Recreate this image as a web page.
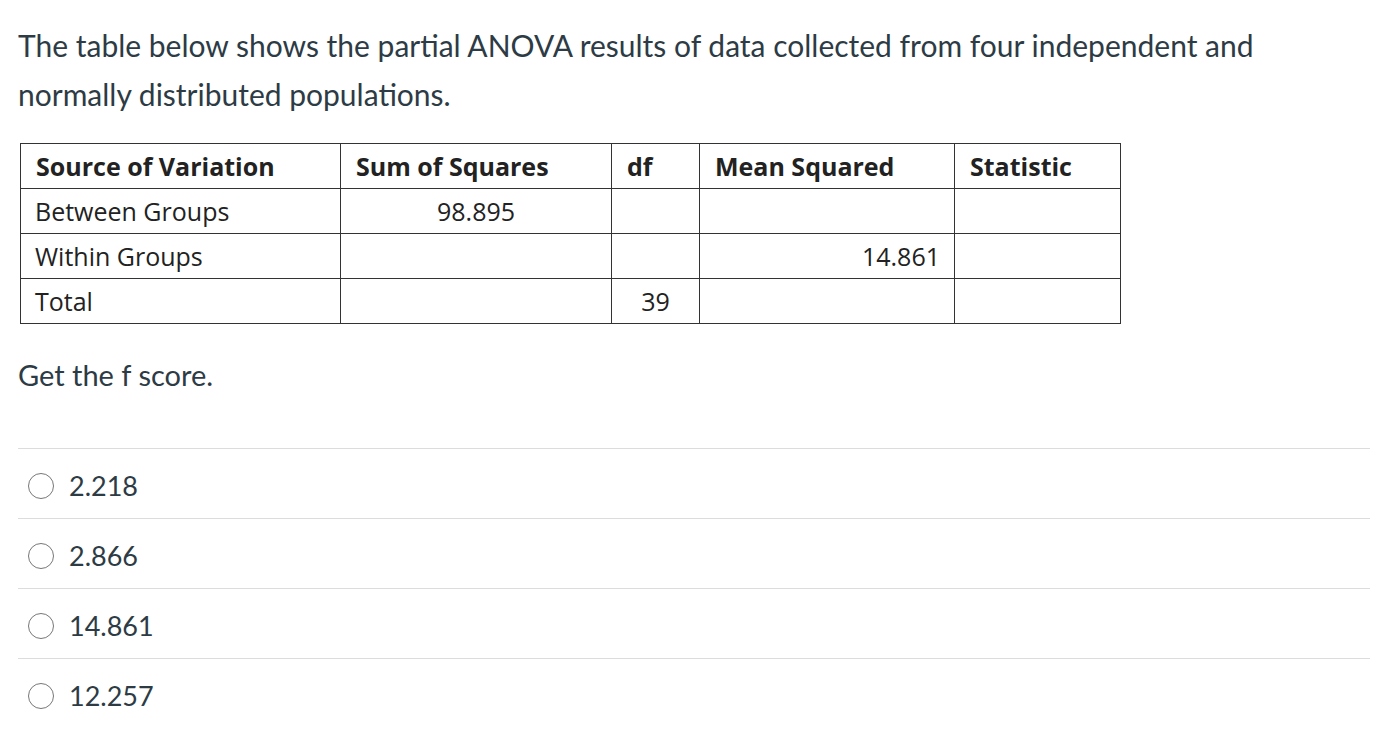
<!DOCTYPE html>
<html>
<head>
<meta charset="utf-8">
<script src="https://cdn.jsdelivr.net/npm/chart.js@4"></script>
<style>
  body { margin: 0; background: #fff; font-family: Lato, sans-serif; color: #2d3b45; width: 1398px; height: 748px; overflow: hidden; position: relative; }
  .q { position: absolute; left: 18px; top: 21px; font-size: 30px; line-height: 49px; width: 1330px; }
  table { position: absolute; left: 20px; top: 143px; border-collapse: collapse; font-family: "Open Sans", sans-serif; font-size: 25px; color: #222; table-layout: fixed; }
  td, th { border: 1.5px solid #333; height: 44px; padding: 0 14px; white-space: nowrap; }
  th { font-weight: bold; text-align: left; padding: 0 12px 0 15px; }
  td.num { text-align: center; }
  .ask { position: absolute; left: 18px; top: 357px; font-size: 29px; }
  .sep { position: absolute; left: 18px; width: 1352px; height: 0; border-top: 1.5px solid #dcdcdc; }
  .opt { position: absolute; left: 28px; font-size: 27px; display: flex; align-items: center; }
  .opt span.r { width: 24px; height: 24px; border: 1.5px solid #777; border-radius: 50%; margin-right: 15px; }
</style>
</head>
<body>
<div class="q">The table below shows the partial ANOVA results of data collected from four independent and normally distributed populations.</div>
<table id="anova"></table>
<div class="ask">Get the f score.</div>
<div id="opts"></div>
<script>
// table contents
const headers = ['Source of Variation', 'Sum of Squares', 'df', 'Mean Squared', 'Statistic'];
const sources = ['Between Groups', 'Within Groups', 'Total'];
const sumSquares = ['98.895', '', ''];
const dfs = ['', '', '39'];
const meanSquared = ['', '14.861', ''];
const statistic = ['', '', ''];
const choices = ['2.218', '2.866', '14.861', '12.257'];

const colWidths = [292, 243, 60, 227, 138];
const table = document.getElementById('anova');
table.style.width = colWidths.reduce((a, b) => a + b, 0) + 'px';
let html = '<tr>' + headers.map((h, i) => `<th style="width:${colWidths[i]}px">${h}</th>`).join('') + '</tr>';
sources.forEach((s, i) => {
  html += `<tr><td>${s}</td><td class="num">${sumSquares[i]}</td><td class="num">${dfs[i]}</td>` +
    `<td style="text-align:right">${meanSquared[i]}</td><td>${statistic[i]}</td></tr>`;
});
table.innerHTML = html;

const opts = document.getElementById('opts');
[448, 518, 588, 658].forEach((y, i) => {
  const sep = document.createElement('div');
  sep.className = 'sep';
  sep.style.top = y + 'px';
  opts.appendChild(sep);
  const o = document.createElement('div');
  o.className = 'opt';
  o.style.top = (y + 21) + 'px';
  o.innerHTML = '<span class="r"></span>' + choices[i];
  opts.appendChild(o);
});
</script>
</body>
</html>
